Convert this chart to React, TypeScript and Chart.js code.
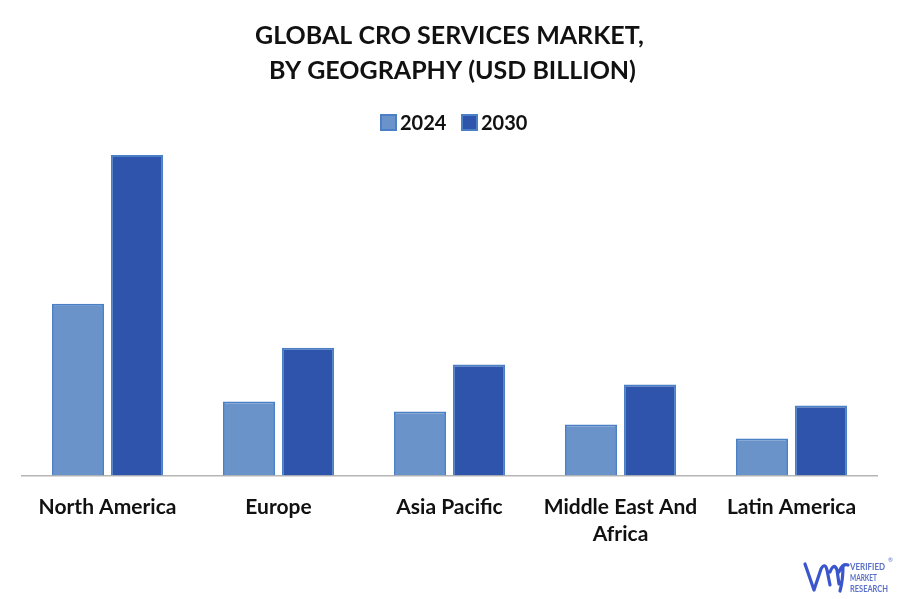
import { useEffect, useRef } from 'react';
import { Chart, registerables } from 'chart.js';

Chart.register(...registerables);

const FONT = 'Lato, "Open Sans", sans-serif';

const categories = ['North America', 'Europe', 'Asia Pacific', ['Middle East And', 'Africa'], 'Latin America'];
const years = ['2024', '2030'];
const values2024 = [17.2, 7.4, 6.4, 5.1, 3.7];
const values2030 = [32.1, 12.8, 11.1, 9.1, 7.0];
const yMax = 32.1;

const fills = ['#6a94c9', '#2e55ab'];
const edge = '#4c80c6';

export default function App() {
  const canvasRef = useRef<HTMLCanvasElement>(null);

  useEffect(() => {
    document.body.style.margin = '0';
    if (!canvasRef.current) return;

    const chart = new Chart(canvasRef.current, {
      type: 'bar',
      data: {
        labels: categories as any,
        datasets: [
          { label: years[0], data: values2024, backgroundColor: fills[0], borderColor: edge, borderWidth: 2 },
          { label: years[1], data: values2030, backgroundColor: fills[1], borderColor: edge, borderWidth: 2 },
        ],
      },
      options: {
        animation: false,
        responsive: false,
        devicePixelRatio: 1,
        layout: { padding: { left: 22, right: 24, top: 0, bottom: 41 } },
        datasets: { bar: { categoryPercentage: 0.69, barPercentage: 0.885 } },
        plugins: {
          legend: { display: false },
          tooltip: { enabled: false },
          title: {
            display: true,
            text: ['GLOBAL CRO SERVICES MARKET,', ' BY GEOGRAPHY (USD BILLION)'],
            color: '#111',
            font: { family: FONT, size: 25, weight: 'bold', lineHeight: 1.4 },
            padding: { top: 18, bottom: 67 },
          },
        },
        scales: {
          x: {
            grid: { display: false },
            border: { color: '#b5b5b5', width: 1.5 },
            ticks: {
              color: '#111',
              font: { family: FONT, size: 21, weight: 'bold', lineHeight: 1.3 },
              maxRotation: 0,
              autoSkip: false,
              padding: 10,
            },
          },
          y: { display: false, min: 0, max: yMax },
        },
      },
    });

    return () => chart.destroy();
  }, []);

  return (
    <div style={{ position: 'relative', width: 901, height: 599, overflow: 'hidden' }}>
      <canvas ref={canvasRef} width={901} height={599} style={{ display: 'block' }} />
      {years.map((year, i) => (
        <div key={year} style={{ position: 'absolute', left: 380 + i * 81, top: 107, display: 'flex', alignItems: 'center', height: 30 }}>
          <span style={{ width: 13, height: 13, background: fills[i], border: `2px solid ${edge}`, marginRight: 3 }} />
          <span style={{ font: `bold 20px ${FONT}`, color: '#111' }}>{year}</span>
        </div>
      ))}
      <svg width={901} height={599} style={{ position: 'absolute', left: 0, top: 0 }}>
        <path d="M805 564 L814 590 L821 569 Q825 562 827 570 L830 585 M830 572 Q834 562 837 570 L839 584 M839 572 Q842 563 848 565 M843 566 Q843 580 840 591"
          fill="none" stroke="#3b56cc" strokeWidth={3.2} strokeLinecap="round" strokeLinejoin="round" />
        <g fill="#5a70c8" fontFamily={FONT} fontSize={9.5} fontWeight={700}>
          <text x={850} y={570} textLength={35} lengthAdjust="spacingAndGlyphs">VERIFIED</text>
          <text x={850} y={581} textLength={27} lengthAdjust="spacingAndGlyphs">MARKET</text>
          <text x={850} y={592} textLength={38} lengthAdjust="spacingAndGlyphs">RESEARCH</text>
        </g>
        <text x={888} y={562} fontSize={6} fill="#5a70c8" fontFamily={FONT}>®</text>
      </svg>
    </div>
  );
}
